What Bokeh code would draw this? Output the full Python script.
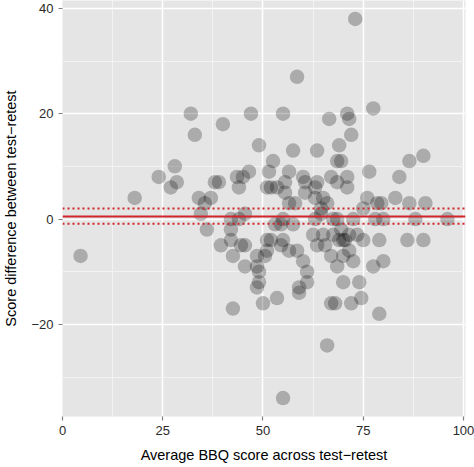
from bokeh.plotting import figure
from bokeh.models import Range1d, FixedTicker, Span, ColumnDataSource
from bokeh.embed import file_html
from bokeh.resources import INLINE

# Bland-Altman data: mean of the two sessions vs. difference between them
bbq_mean = [
    73, 58.5, 77.5, 32, 47, 55, 71, 71.5, 66.5, 40, 33, 72, 49, 69, 57.5, 63.5,
    90, 86.5, 52.5, 68.5, 69.5, 28, 46.5, 45, 43.5, 51.5, 56.5, 76.5, 24, 60,
    67, 71, 84, 28.5, 38, 39, 55.5, 60.5, 63.5, 68.5, 27, 44, 51, 52, 53.5, 63,
    71, 55.5, 60.5, 18, 34, 37, 63, 65, 66, 76, 83, 35.5, 56.5, 58, 78.5, 79.5,
    86.5, 90.5, 75, 64.5, 34.5, 42, 44, 45.5, 55, 54.5, 57.5, 63, 64.5, 67.5,
    68.5, 72.5, 78, 80, 88, 96, 53, 36, 42, 4.5, 39.5, 42, 44.5, 45.5, 42.5,
    45.5, 48.5, 50.5, 49, 49, 48.5, 48.5, 42.5, 50, 53.5, 59, 51, 51, 52, 55,
    54.5, 56.5, 58.5, 60, 61, 61, 59, 62.5, 63.5, 65.5, 67.5, 69.5, 71.5, 73.5,
    70, 70.5, 69, 67, 68.5, 71.5, 72.5, 70, 70, 74, 67, 68, 72, 74.5, 77.5, 80,
    79, 86, 90, 79, 66, 55, 75, 65,
]
bbq_diff = [
    38, 27, 21, 20, 20, 20, 20, 19, 19, 18, 16, 16, 14, 14, 13, 13,
    12, 11, 11, 11, 11, 10, 9, 8, 8, 9, 9, 9, 8, 8,
    8, 8, 8, 7, 7, 7, 7, 7, 7, 7, 6, 6, 6, 6, 6, 6,
    6, 5, 5, 4, 4, 4, 4, 4, 3, 4, 4, 3, 3, 3, 3, 3,
    3, 3, 2, 2, 1, 0, 0, 1, 0, -1, -1, 0, 1, 0,
    0, 0, 0, 0, 0, 0, -1, -2, -2, -7, -5, -4, -5, -5, -7,
    -9, -7, -7, -10, -12, -13, -9, -17, -16, -15, -14, -4, -6, -4, -4,
    -5, -6, -6, -8, -10, -12, -13, -3, -5, -5, -3, -2, -3, -3,
    -4, -4, -4, -7, -9, -6, -8, -7, -12, -12, -16, -16, -16, -15, -9, -8,
    -4, -4, -4, -18, -24, -34, -4, -3,
]

# Mean difference and its 95% confidence limits
mean_diff = 0.5
ci_upper = 2.0
ci_lower = -0.9

x_ticks = [0, 25, 50, 75, 100]
x_minor = [12.5, 37.5, 62.5, 87.5]
y_ticks = [-20, 0, 20, 40]
y_minor = [-30, -10, 10, 30]

source = ColumnDataSource(data=dict(x=bbq_mean, y=bbq_diff))

p = figure(
    width=474, height=467,
    x_range=Range1d(0, 100.5), y_range=Range1d(-37.5, 41.5),
    output_backend="svg", toolbar_location=None,
    min_border_left=62, min_border_right=9,
    min_border_top=0, min_border_bottom=51,
)
p.background_fill_color = "#E5E5E5"
p.border_fill_color = "white"
p.outline_line_color = None

p.xaxis.ticker = FixedTicker(ticks=x_ticks, minor_ticks=x_minor)
p.yaxis.ticker = FixedTicker(ticks=y_ticks, minor_ticks=y_minor)
p.yaxis.major_label_overrides = {-20: "\u221220"}

for grid in (p.xgrid, p.ygrid):
    grid.grid_line_color = "white"
    grid.grid_line_width = 1.6
    grid.minor_grid_line_color = "#F2F2F2"
    grid.minor_grid_line_width = 1

for ax in (p.xaxis, p.yaxis):
    ax.axis_line_color = None
    ax.major_tick_line_color = "#7F7F7F"
    ax.major_tick_line_width = 1.2
    ax.major_tick_out = 4
    ax.major_tick_in = 0
    ax.minor_tick_out = 0
    ax.minor_tick_in = 0
    ax.major_label_text_font = "Liberation Sans"
    ax.major_label_text_font_size = "13px"
    ax.major_label_text_color = "#2a2a2a"
    ax.major_label_standoff = 5
    ax.axis_label_text_font = "Liberation Sans"
    ax.axis_label_text_font_size = "14.5px"
    ax.axis_label_text_font_style = "normal"
    ax.axis_label_text_color = "black"
    ax.axis_label_standoff = 9

p.xaxis.axis_label = "Average BBQ score across test\u2212retest"
p.yaxis.axis_label = "Score difference between test\u2212retest"

p.scatter("x", "y", source=source, size=14.5, fill_color="black",
          fill_alpha=0.25, line_color=None)

red = "#D0252B"
p.add_layout(Span(location=mean_diff, dimension="width", line_color=red,
                  line_width=2))
for lim in (ci_upper, ci_lower):
    p.add_layout(Span(location=lim, dimension="width", line_color=red,
                      line_width=2, line_dash="2 3"))

open("out.html", "w").write(file_html(p, INLINE))
